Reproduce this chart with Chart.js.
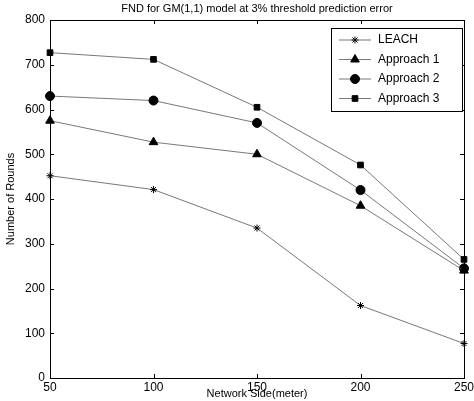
<!DOCTYPE html>
<html><head><meta charset="utf-8">
<script src="https://cdn.jsdelivr.net/npm/chart.js@4/dist/chart.umd.min.js"></script>
<style>html,body{margin:0;padding:0;background:#fff}#w{width:474px;height:401px}</style>
</head><body><div id="w"><canvas id="c"></canvas></div>
<script>
const categories=[50,100,150,200,250];
const leach=[452,421,335,162,77];
const approach1=[575,527,500,385,240];
const approach2=[630,620,570,420,245];
const approach3=[727,712,605,476,265];
const yTicks=[0,100,200,300,400,500,600,700,800];
const names=['LEACH','Approach 1','Approach 2','Approach 3'];
const styles=['star','triangle','circle','rect'];
const sizes=[3.5,5,4.5,4];
const F='Arial, "Liberation Sans", sans-serif';
function ds(i,d){return{label:names[i],data:categories.map((x,k)=>({x,y:d[k]})),borderColor:'#555',borderWidth:0.8,pointStyle:styles[i],pointRadius:sizes[i],pointBackgroundColor:'#000',pointBorderColor:'#000',pointBorderWidth:1,clip:false};}
const deco={id:'deco',afterDraw(ch){const c=ch.ctx,a=ch.chartArea;c.save();
c.strokeStyle='#000';c.lineWidth=1;c.strokeRect(a.left+.5,a.top+.5,a.right-a.left,a.bottom-a.top);
const xs=ch.scales.x,ys=ch.scales.y;c.beginPath();
categories.forEach(v=>{const p=Math.round(xs.getPixelForValue(v))+.5;c.moveTo(p,a.bottom);c.lineTo(p,a.bottom-4);c.moveTo(p,a.top);c.lineTo(p,a.top+4);});
yTicks.forEach(v=>{const p=Math.round(ys.getPixelForValue(v))+.5;c.moveTo(a.left,p);c.lineTo(a.left+4,p);c.moveTo(a.right,p);c.lineTo(a.right-4,p);});
c.stroke();
c.fillStyle='#000';c.font='12px '+F;c.textBaseline='middle';
c.textAlign='center';categories.forEach(v=>c.fillText(String(v),xs.getPixelForValue(v),a.bottom+10));
c.textAlign='right';yTicks.forEach(v=>c.fillText(String(v),a.left-5,ys.getPixelForValue(v)));
c.font='11px '+F;c.textAlign='center';
c.fillText('FND for GM(1,1) model at 3% threshold prediction error',(a.left+a.right)/2,9);
c.fillText('Network Side(meter)',(a.left+a.right)/2,394);
c.translate(11,(a.top+a.bottom)/2);c.rotate(-Math.PI/2);c.fillText('Number of Rounds',0,0);c.restore();
c.save();const L=331,T=28,W=131,H=83;c.fillStyle='#fff';c.fillRect(L,T,W,H);c.strokeStyle='#000';c.lineWidth=1;c.strokeRect(L+.5,T+.5,W,H);
c.font='12px '+F;c.textBaseline='middle';c.textAlign='left';
for(let i=0;i<4;i++){const y=T+12+i*19.5;c.strokeStyle='#555';c.lineWidth=0.8;c.beginPath();c.moveTo(L+8,y);c.lineTo(L+40,y);c.stroke();
c.fillStyle='#000';c.strokeStyle='#000';c.lineWidth=1;
Chart.helpers.drawPoint(c,{pointStyle:styles[i],radius:sizes[i],borderWidth:1},L+24,y);
c.fillStyle='#000';c.fillText(names[i],L+47,y);}
c.restore();}};
new Chart(document.getElementById('c'),{type:'line',
data:{datasets:[ds(0,leach),ds(1,approach1),ds(2,approach2),ds(3,approach3)]},
options:{responsive:true,maintainAspectRatio:false,animation:false,
layout:{padding:{left:50,right:10,top:20,bottom:23}},
plugins:{legend:{display:false},tooltip:{enabled:false}},
scales:{x:{type:'linear',min:50,max:250,afterFit:s=>{s.height=0},afterBuildTicks:s=>{s.ticks=categories.map(v=>({value:v}))},
grid:{display:false},border:{display:false},ticks:{display:false}},
y:{min:0,max:800,afterFit:s=>{s.width=0},afterBuildTicks:s=>{s.ticks=yTicks.map(v=>({value:v}))},
grid:{display:false},border:{display:false},ticks:{display:false}}}},
plugins:[deco]});
</script></body></html>
